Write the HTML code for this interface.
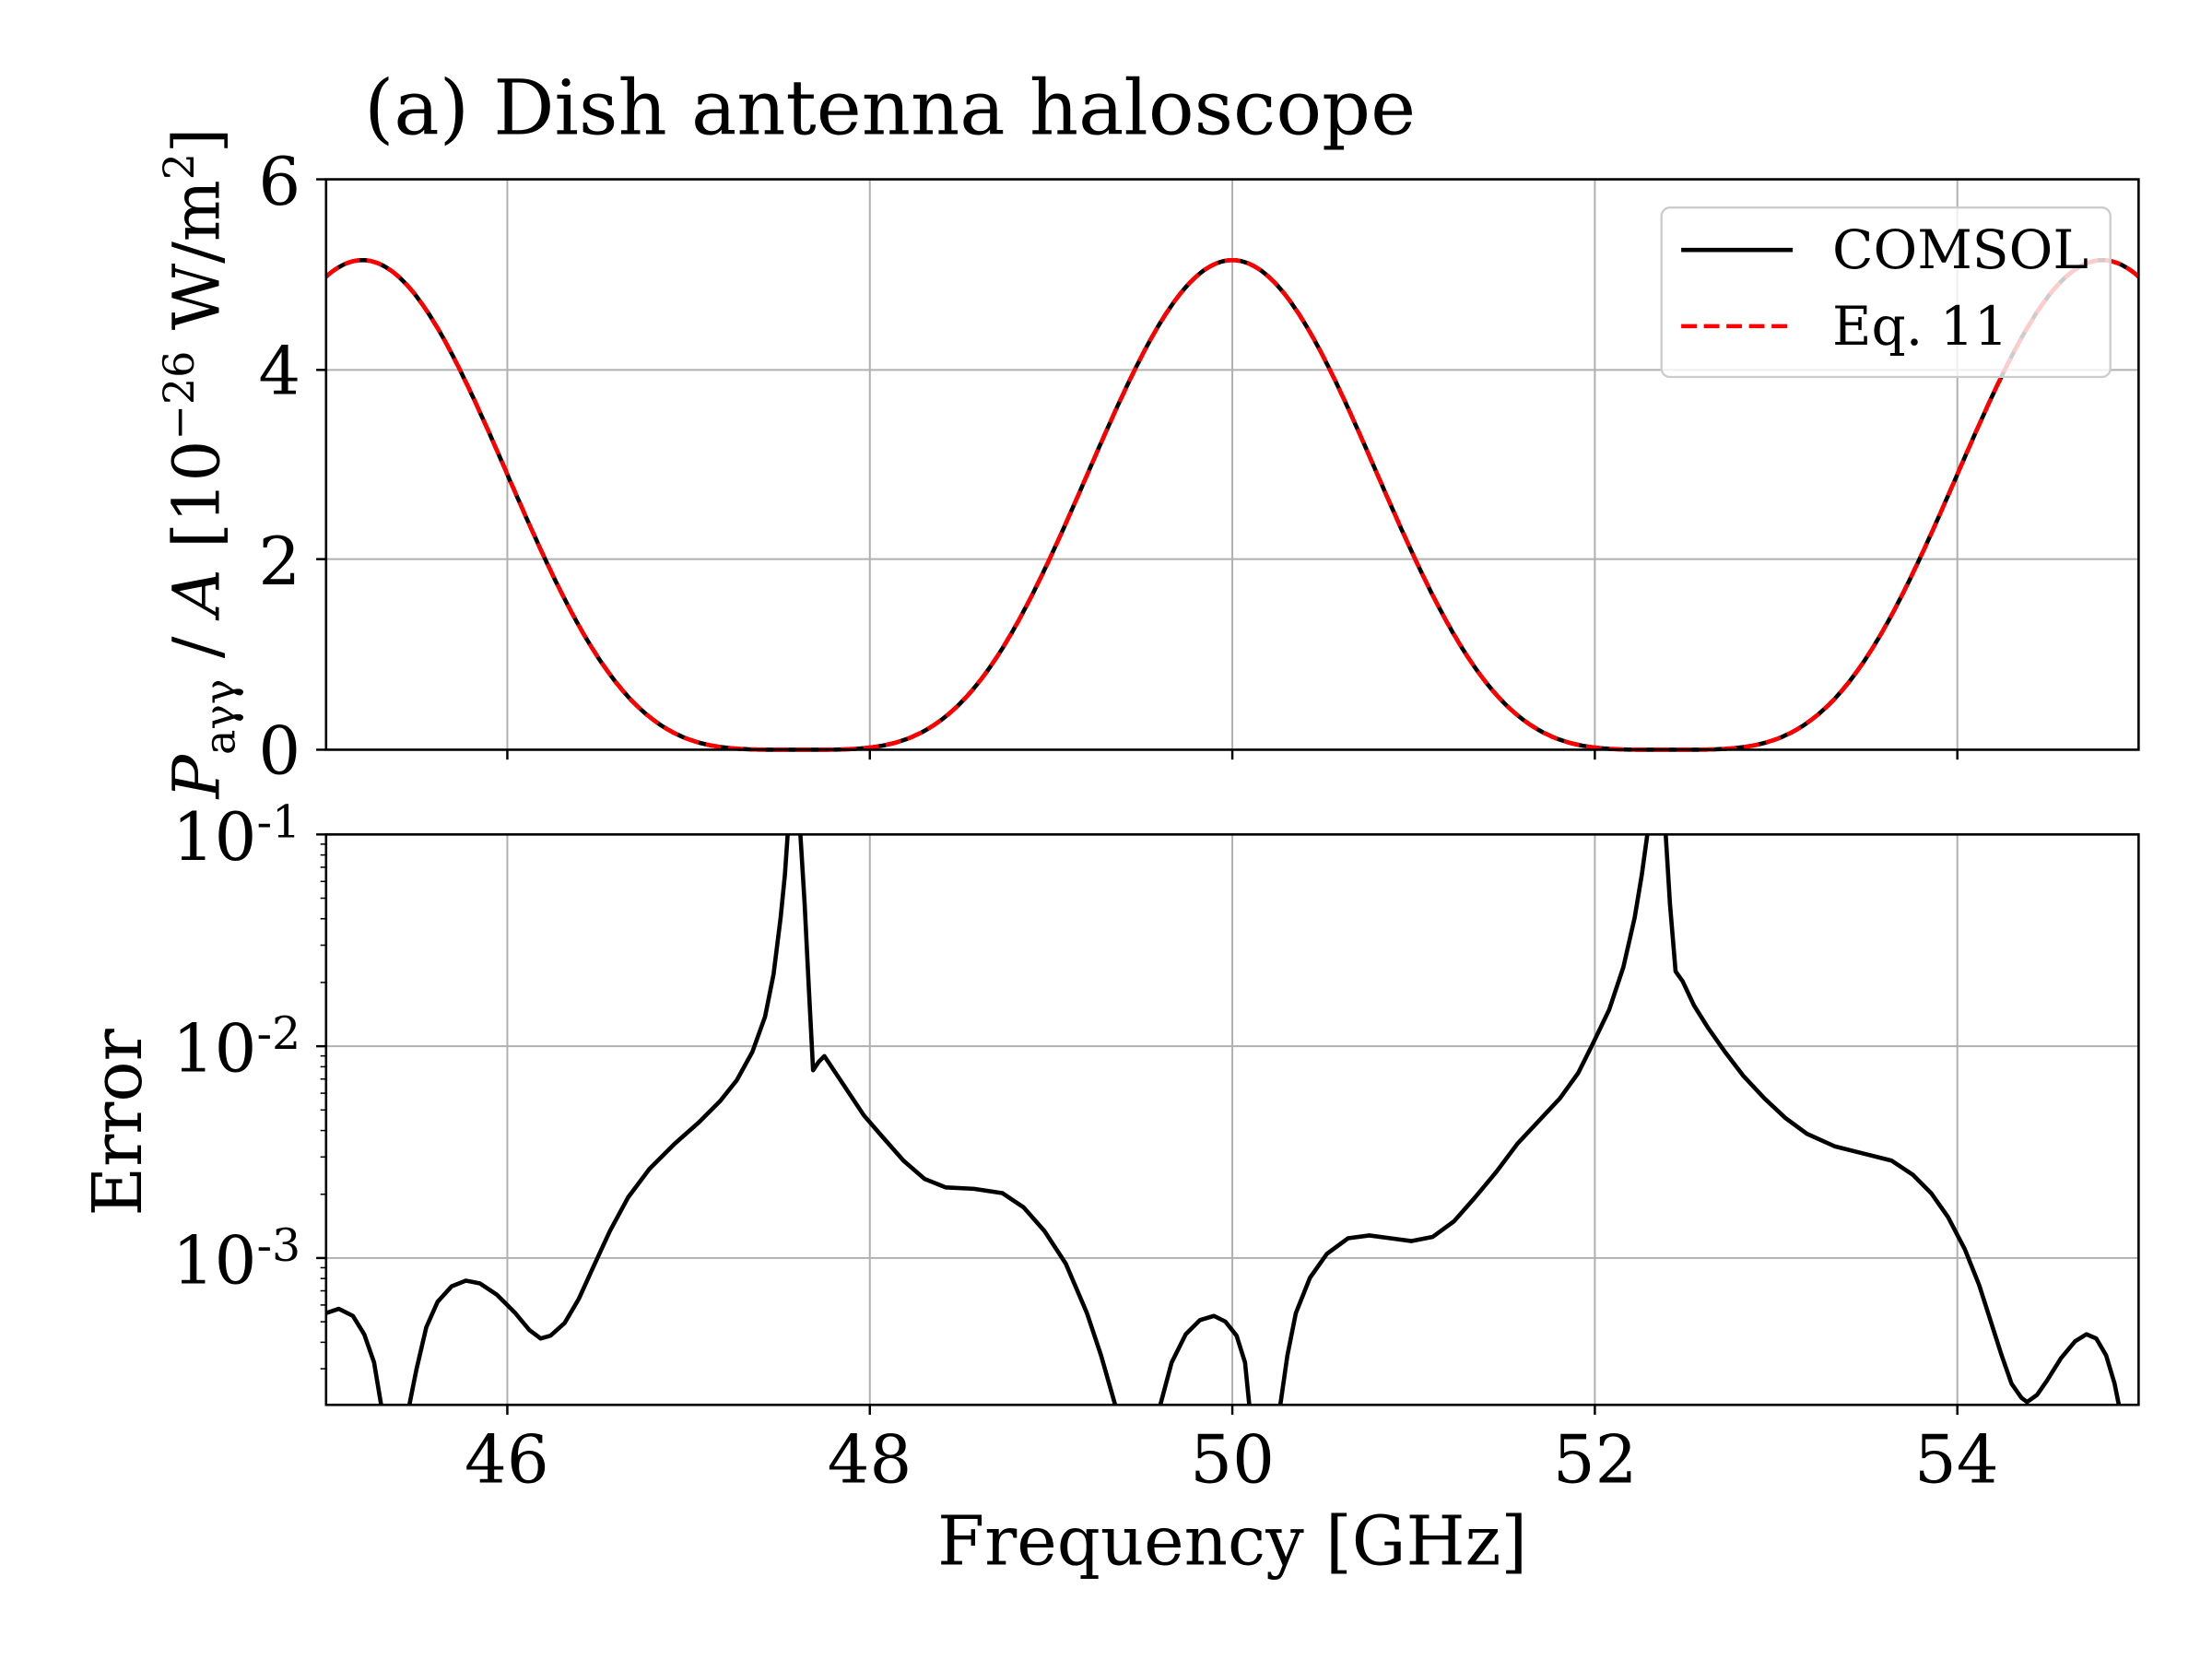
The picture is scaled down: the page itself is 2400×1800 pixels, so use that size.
<!DOCTYPE html>
<html><head><meta charset="utf-8"><style>
html,body{margin:0;padding:0;background:#fff;}
svg{display:block;}
text{font-family:"DejaVu Serif","Liberation Serif",serif;fill:#000;}
</style></head><body>
<svg id="s" width="2400" height="1800" viewBox="0 0 1567 1175" preserveAspectRatio="none" xmlns="http://www.w3.org/2000/svg">
<rect width="1567" height="1175" fill="#fff"/>
<g id="grid" stroke="#b0b0b0" stroke-width="1.3"></g>
<g id="curves"></g>
<!-- legend -->
<rect x="1177" y="147" width="318" height="120" rx="6" fill="#fff" fill-opacity="0.8" stroke="#ccc" stroke-width="1.5"/>
<line x1="1191" y1="177" x2="1270" y2="177" stroke="#000" stroke-width="3"/>
<line x1="1191" y1="231" x2="1270" y2="231" stroke="#f00" stroke-width="3" stroke-dasharray="11,5"/>
<text x="1298" y="190" font-size="38">COMSOL</text>
<text x="1298" y="244" font-size="38">Eq. 11</text>
<!-- axes frames -->
<rect x="231" y="127" width="1284" height="404" fill="none" stroke="#000" stroke-width="1.7"/>
<rect x="231" y="591" width="1284" height="404" fill="none" stroke="#000" stroke-width="1.7"/>
<g id="ticks" stroke="#000" stroke-width="1.6"></g>
<g font-size="47" text-anchor="end">
<text x="213" y="145">6</text><text x="213" y="279">4</text><text x="213" y="414">2</text><text x="213" y="548">0</text>
</g>
<g font-size="47" text-anchor="end">
<text x="213" y="609">10<tspan font-size="32" dy="-16">-1</tspan></text>
<text x="213" y="759">10<tspan font-size="32" dy="-16">-2</tspan></text>
<text x="213" y="909">10<tspan font-size="32" dy="-16">-3</tspan></text>
</g>
<g font-size="47" text-anchor="middle">
<text x="359" y="1050">46</text><text x="616" y="1050">48</text><text x="873" y="1050">50</text><text x="1130" y="1050">52</text><text x="1386" y="1050">54</text>
</g>
<text x="873" y="1108" font-size="48" text-anchor="middle">Frequency [GHz]</text>
<text x="258" y="95" font-size="54">(a) Dish antenna haloscope</text>
<text transform="translate(100,795) rotate(-90)" font-size="48" text-anchor="middle">Error</text>
<text transform="translate(155,328) rotate(-90)" font-size="46" text-anchor="middle"><tspan font-style="italic">P</tspan><tspan font-size="30" dy="11">aγγ</tspan><tspan dy="-11"> / </tspan><tspan font-style="italic">A</tspan> [10<tspan font-size="30" dy="-18">−26</tspan><tspan dy="18"> W/m</tspan><tspan font-size="30" dy="-18">2</tspan><tspan dy="18">]</tspan></text>
</svg>
<script>
var NS="http://www.w3.org/2000/svg";
function el(p,t,a){var e=document.createElementNS(NS,t);for(var k in a)e.setAttribute(k,a[k]);p.appendChild(e);return e;}
var X=function(f){return 231+(f-45)*128.4;};
var g=document.getElementById('grid'),tk=document.getElementById('ticks'),cv=document.getElementById('curves');
[46,48,50,52,54].forEach(function(f){var x=X(f);
el(g,'line',{x1:x,y1:127,x2:x,y2:531});el(g,'line',{x1:x,y1:591,x2:x,y2:995});
el(tk,'line',{x1:x,y1:531,x2:x,y2:538});el(tk,'line',{x1:x,y1:995,x2:x,y2:1002});});
[262,396].forEach(function(y){el(g,'line',{x1:231,y1:y,x2:1515,y2:y});});
[741,891].forEach(function(y){el(g,'line',{x1:231,y1:y,x2:1515,y2:y});});
[127,262,396,531].forEach(function(y){el(tk,'line',{x1:224,y1:y,x2:231,y2:y});});
[591,741,891].forEach(function(y){el(tk,'line',{x1:224,y1:y,x2:231,y2:y});});
[-4,-3,-2].forEach(function(d){for(var m=2;m<=9;m++){var y=891-(d+3+Math.log10(m))*150;if(y>=591&&y<=995)el(tk,'line',{x1:227,y1:y,x2:231,y2:y,'stroke-width':1});}});
var pts=[];for(var i=0;i<=600;i++){var f=45+i/60;var ph=Math.PI*(f-50)/4.8;var c=Math.cos(ph);var v=5.15*Math.pow(c,4);
pts.push(X(f).toFixed(1)+','+(531-v*67.33).toFixed(1));}
var d='M'+pts.join(' L');
el(cv,'path',{d:d,fill:'none',stroke:'#000','stroke-width':3});
el(cv,'path',{d:d,fill:'none',stroke:'#f00','stroke-width':3,'stroke-dasharray':'11,5'});
var segs=[
[[231,930],[240,927],[250,932],[258,945],[265,965],[270,995]],
[[290,995],[295,970],[302,940],[310,922],[320,911],[330,907],[340,909],[352,917],[365,930],[375,942],[383,948],[390,946],[400,937],[410,920],[420,898],[432,872],[445,848],[460,828],[478,810],[495,795],[510,780],[522,765],[533,745],[542,720],[548,690],[553,650],[556,620],[558,591]],
[[567,591],[570,640],[573,700],[576,758],[580,752],[584,748],[590,757],[600,772],[612,790],[625,805],[640,822],[655,835],[670,841],[690,842],[710,845],[725,855],[740,872],[755,895],[770,930],[780,960],[790,995]],
[[822,995],[830,965],[840,945],[850,935],[860,932],[868,936],[876,946],[882,965],[885,995]],
[[907,995],[912,960],[918,930],[928,905],[940,888],[955,877],[970,875],[985,877],[1000,879],[1015,876],[1030,865],[1045,848],[1060,830],[1075,810],[1090,794],[1105,778],[1118,760],[1128,740],[1140,715],[1150,685],[1158,650],[1163,620],[1167,591]],
[[1180,591],[1183,640],[1187,688],[1192,695],[1200,712],[1210,728],[1222,745],[1235,762],[1250,778],[1265,792],[1280,803],[1300,812],[1320,817],[1340,822],[1355,832],[1368,845],[1380,862],[1392,885],[1402,910],[1410,935],[1418,960],[1425,980],[1432,990],[1436,993],[1443,988],[1450,978],[1460,962],[1470,950],[1478,945],[1485,948],[1492,960],[1498,980],[1501,995]]];
segs.forEach(function(s){el(cv,'polyline',{points:s.map(function(p){return p.join(',');}).join(' '),fill:'none',stroke:'#000','stroke-width':3,'stroke-linejoin':'round'});});
</script>
</body></html>
